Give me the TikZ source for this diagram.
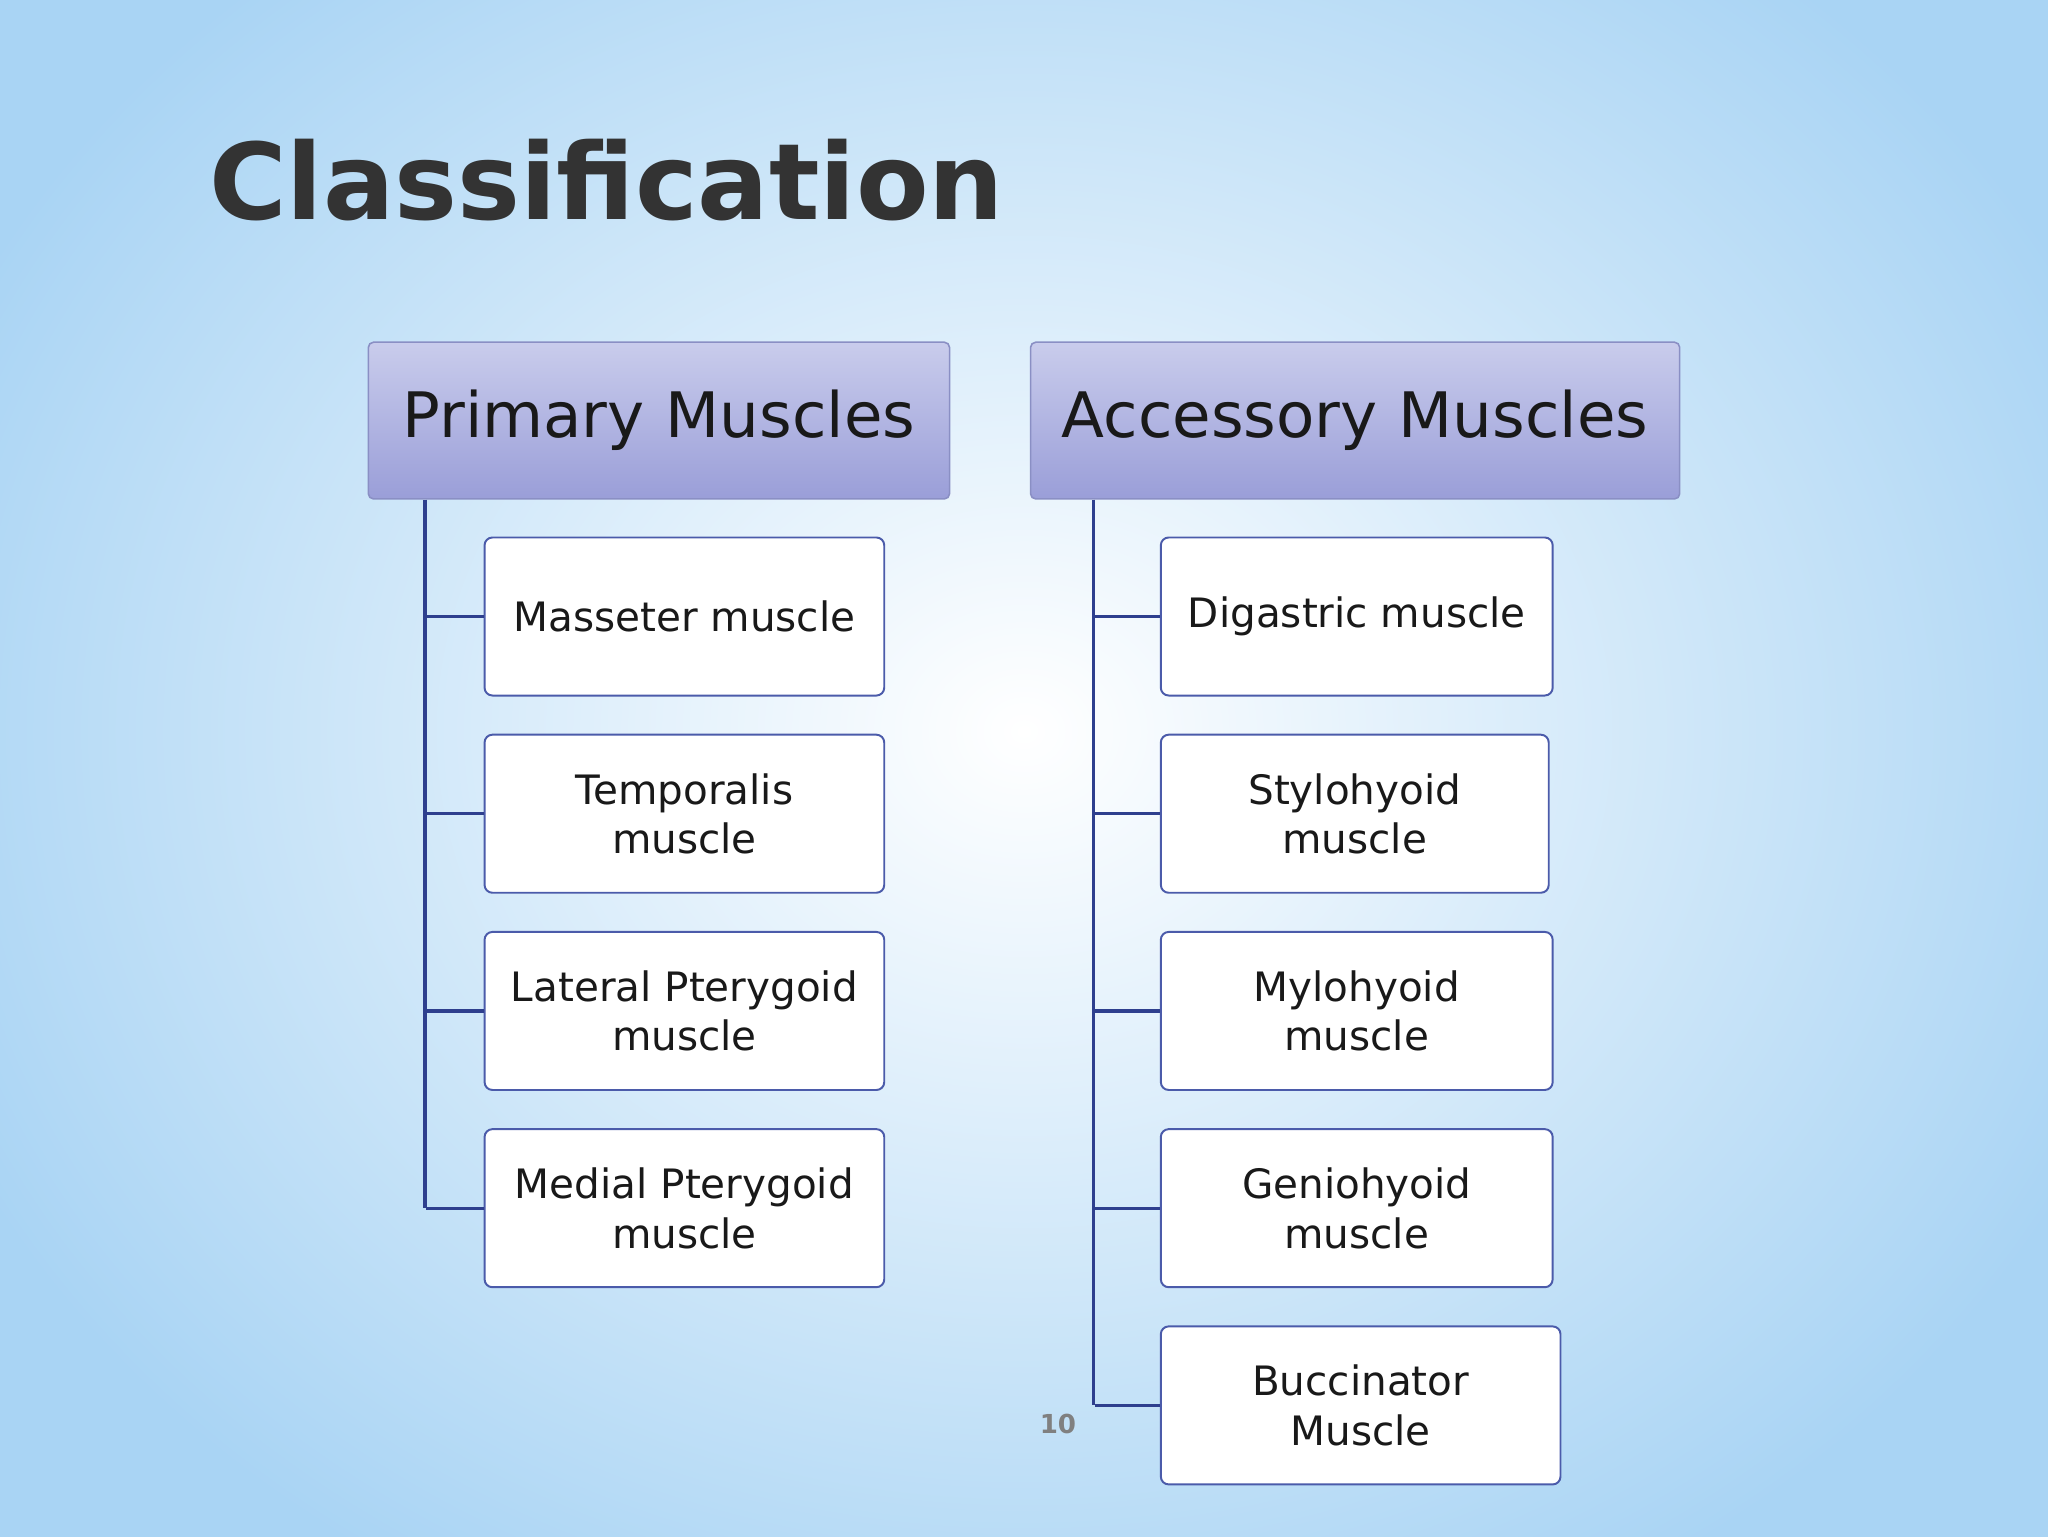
\documentclass[tikz,border=0pt]{standalone}
\usepackage{fontspec}
\setmainfont{DejaVu Sans}
\begin{document}
\begin{tikzpicture}[x=1pt,y=-1pt,
  hdr/.style={draw=hdrb,line width=1.2pt,rounded corners=4pt,top color=hdrt,bottom color=hdrm,minimum height=120pt,inner sep=0pt,font=\fontsize{48}{56}\selectfont,text=black!90},
  leaf/.style={draw=leafb,line width=1.5pt,fill=white,rounded corners=6pt,minimum height=121pt,inner sep=0pt,align=center,font=\fontsize{31}{38}\selectfont,text=black!90},
  conn/.style={draw=linec,line width=2.5pt}]
\definecolor{hdrb}{HTML}{8A8FC4}
\definecolor{hdrt}{HTML}{C9CCEC}
\definecolor{hdrm}{HTML}{9A9ED8}
\definecolor{leafb}{HTML}{4B5BAA}
\definecolor{linec}{HTML}{2E3F8E}
\definecolor{bgb}{HTML}{A9D4F4}
\useasboundingbox (0,0) rectangle (1568,1176);
\fill[bgb] (-10,-10) rectangle (1578,1186);
\shade[inner color=white,outer color=bgb] (784,560) ellipse (900 and 760);
\node[anchor=base west,font=\fontsize{81}{90}\selectfont\bfseries,text=black!80,inner sep=0pt] (title) at (160,168) {Classification};
\node[hdr,minimum width=445pt,text width=445pt,align=center] (p) at (504.5,322) {Primary Muscles};
\node[hdr,minimum width=497pt,text width=497pt,align=center] (a) at (1037.5,322) {Accessory Muscles};
\foreach \n/\y/\t in {1/472/Masseter muscle,2/623/Temporalis\\muscle,3/774/Lateral Pterygoid\\muscle,4/925/Medial Pterygoid\\muscle}{
  \node[leaf,minimum width=306pt] (l\n) at (524,\y) {\t};
  \draw[conn] (326,\y) -- (l\n.west);
}
\foreach \n/\y/\w/\t in {1/472/300/Digastric muscle,2/623/297/Stylohyoid\\muscle,3/774/300/Mylohyoid\\muscle,4/925/300/Geniohyoid\\muscle,5/1076/306/Buccinator\\Muscle}{
  \node[leaf,minimum width=\w pt,anchor=west] (r\n) at (888,\y) {\t};
  \draw[conn] (838,\y) -- (r\n.west);
}
\draw[conn] (p.south west) ++(44,0) coordinate (pv) -- (pv |- l4.west);
\draw[conn] (a.south west) ++(49,0) coordinate (av) -- (av |- r5.west);
\node[font=\fontsize{20}{24}\selectfont\bfseries,text=black!50] (pg) at (810,1090) {10};
\end{tikzpicture}
\end{document}
